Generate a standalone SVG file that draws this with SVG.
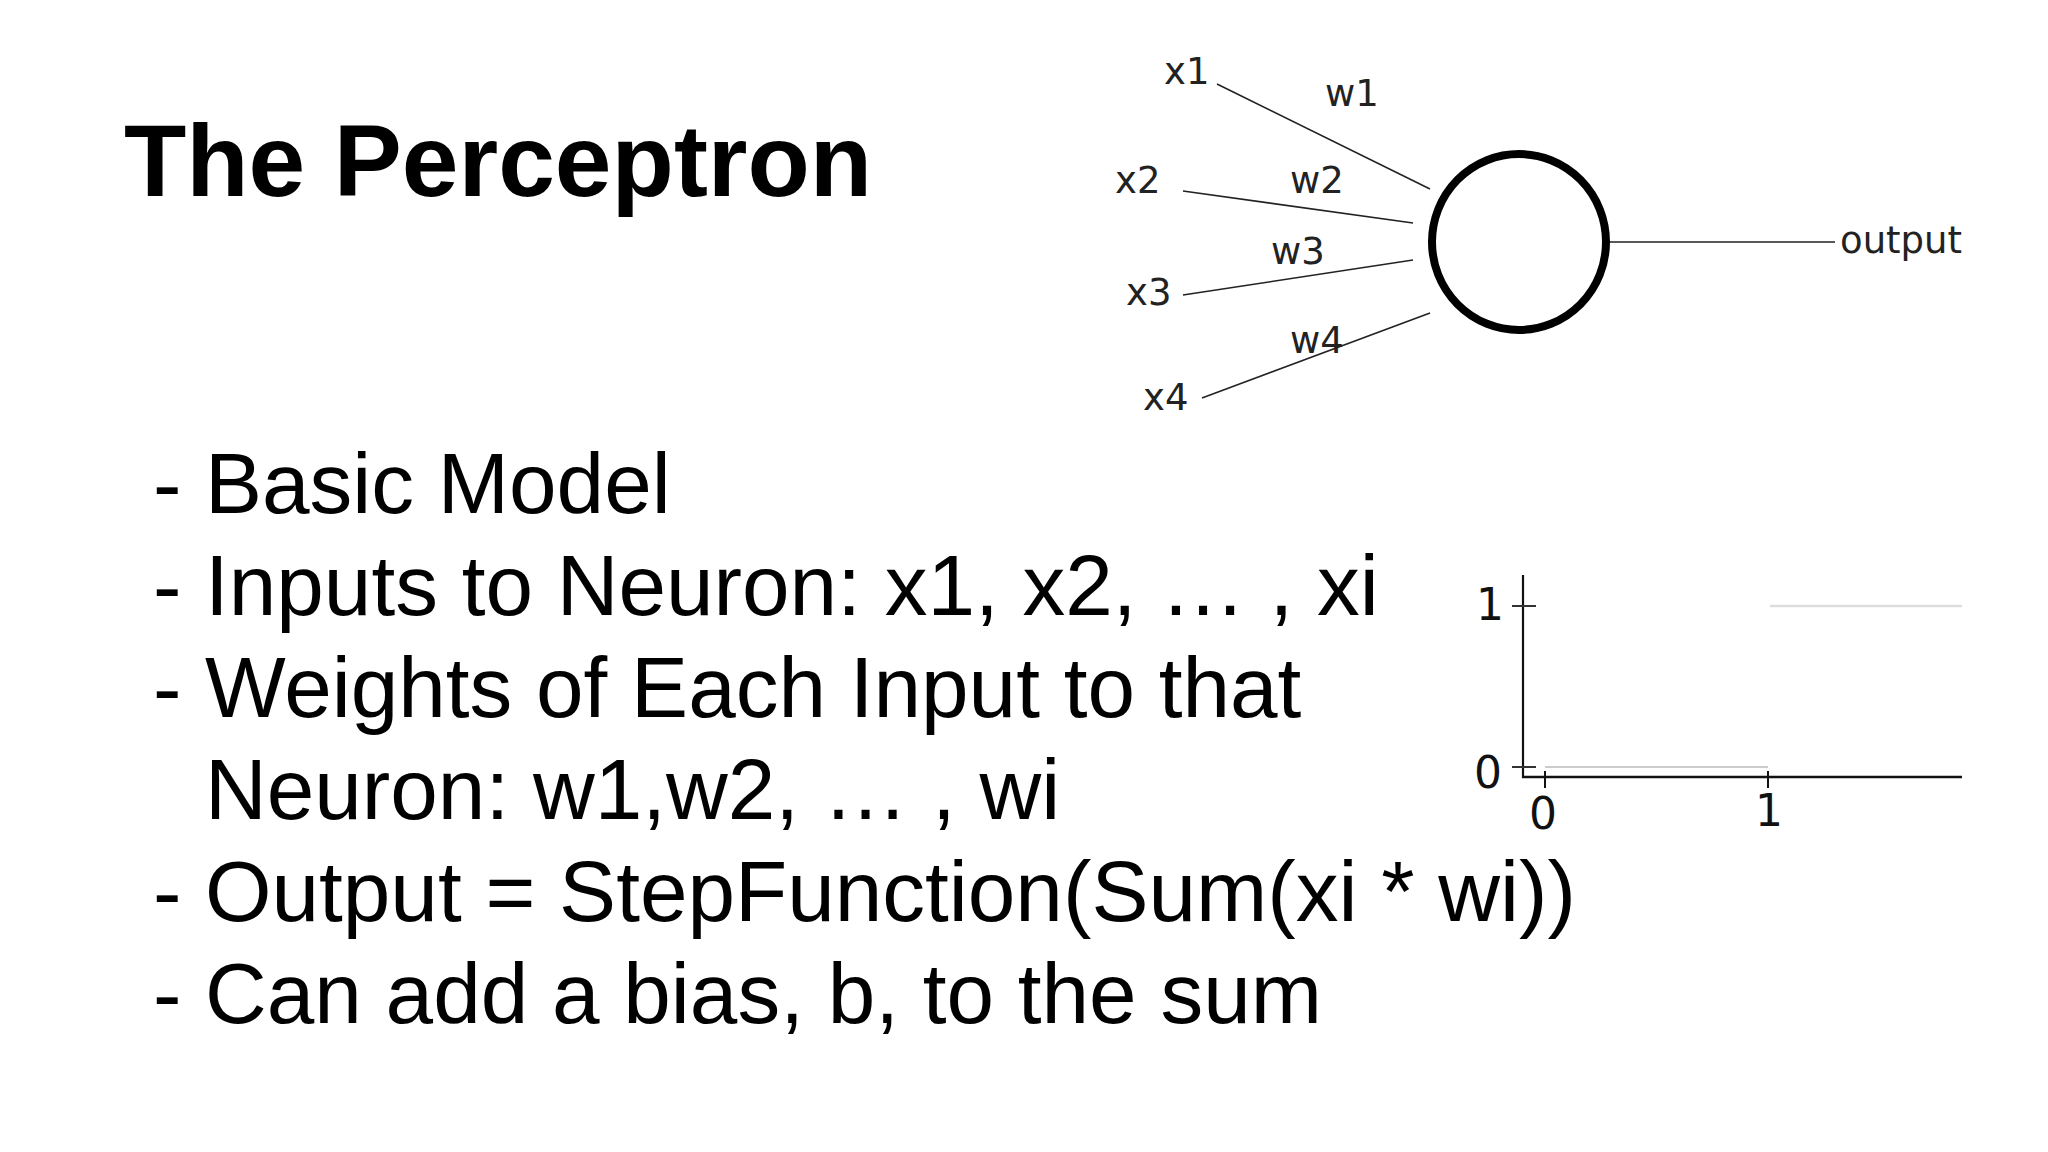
<svg xmlns="http://www.w3.org/2000/svg" width="2048" height="1152" viewBox="0 0 2048 1152">
<style>
.t{font-family:"Liberation Sans",Arial,sans-serif;fill:#000}
.b{font-size:85.5px}
.s{font-family:"DejaVu Sans",Verdana,sans-serif;font-size:37px;fill:#222}
.g{font-family:"DejaVu Sans",sans-serif;font-size:44px;fill:#111}
.l{stroke:#222;stroke-width:1.6;fill:none}
</style>
<rect width="2048" height="1152" fill="#fff"/>
<g id="title"><text class="t" x="124" y="196" font-size="102" font-weight="bold">The Perceptron</text></g>
<g id="bullets" class="t b">
<text x="153" y="513">-<tspan x="205">Basic Model</tspan></text>
<text x="153" y="615">-<tspan x="205">Inputs to Neuron: x1, x2, … , xi</tspan></text>
<text x="153" y="717">-<tspan x="205">Weights of Each Input to that</tspan></text>
<text x="205" y="819">Neuron: w1,w2, … , wi</text>
<text x="153" y="921">-<tspan x="205">Output = StepFunction(Sum(xi * wi))</tspan></text>
<text x="153" y="1023">-<tspan x="205">Can add a bias, b, to the sum</tspan></text>
</g>
<g id="connectors">
<line class="l" x1="1217" y1="84" x2="1430" y2="189"/>
<line class="l" x1="1183" y1="191" x2="1413" y2="223"/>
<line class="l" x1="1183" y1="295" x2="1413" y2="260"/>
<line class="l" x1="1202" y1="398" x2="1430" y2="313"/>
<line class="l" x1="1609" y1="242" x2="1835" y2="242"/>
</g>
<g id="neuron"><ellipse cx="1519" cy="242" rx="87" ry="88" fill="#fff" stroke="#000" stroke-width="8"/></g>
<g id="labels">
<text class="s" x="1164" y="84">x1</text>
<text class="s" x="1325" y="106">w1</text>
<text class="s" x="1115" y="193">x2</text>
<text class="s" x="1290" y="193">w2</text>
<text class="s" x="1271" y="264">w3</text>
<text class="s" x="1126" y="305">x3</text>
<text class="s" x="1290" y="353">w4</text>
<text class="s" x="1143" y="410">x4</text>
<text class="s" x="1840" y="253">output</text>
</g>
<g id="graph">
<line x1="1523" y1="575" x2="1523" y2="778" stroke="#111" stroke-width="2.2"/>
<line x1="1522" y1="777" x2="1962" y2="777" stroke="#111" stroke-width="2.5"/>
<line x1="1512" y1="606" x2="1536" y2="606" stroke="#333" stroke-width="2"/>
<line x1="1512" y1="767" x2="1536" y2="767" stroke="#333" stroke-width="2"/>
<line x1="1545" y1="771" x2="1545" y2="788" stroke="#111" stroke-width="2"/>
<line x1="1768" y1="771" x2="1768" y2="788" stroke="#111" stroke-width="2"/>
<line x1="1545" y1="767" x2="1768" y2="767" stroke="#ccc" stroke-width="2"/>
<line x1="1770" y1="606" x2="1962" y2="606" stroke="#ddd" stroke-width="2.5"/>
<text class="g" x="1476" y="620">1</text>
<text class="g" x="1474" y="788">0</text>
<text class="g" x="1529" y="829">0</text>
<text class="g" x="1755" y="826">1</text>
</g>
</svg>
